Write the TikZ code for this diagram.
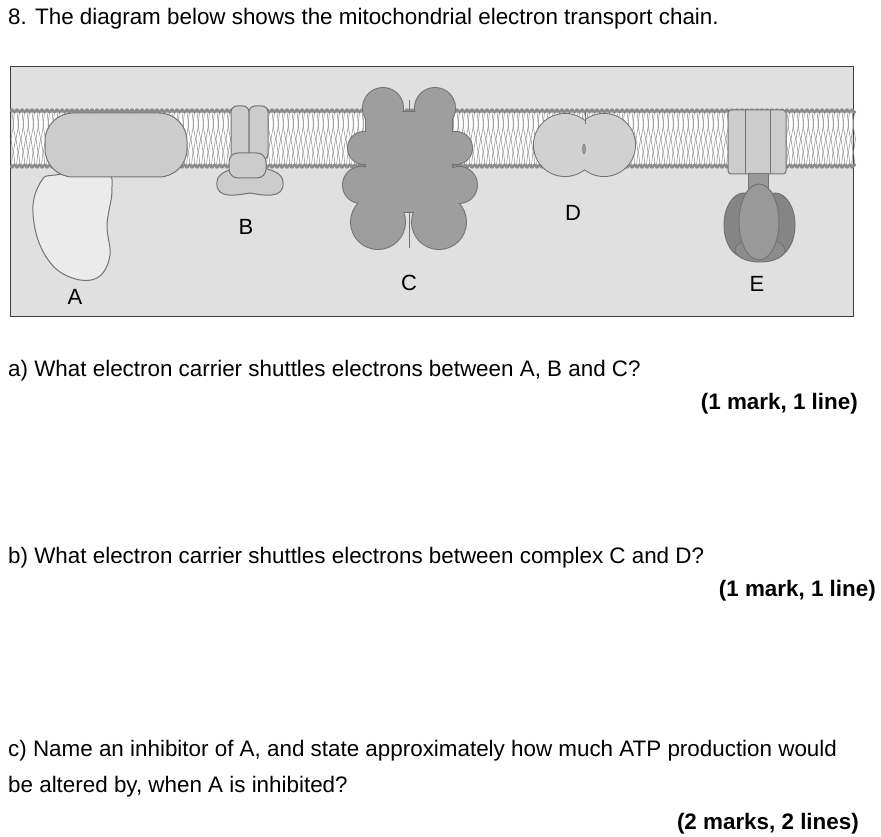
\documentclass[tikz,border=0pt]{standalone}
\usepackage{fontspec}
\setmainfont{Liberation Sans}
\begin{document}
\begin{tikzpicture}[x=1pt,y=-1pt,
  txt/.style={anchor=base west,inner sep=0pt,font=\fontsize{22.4}{26}\selectfont},
  bold/.style={txt,anchor=base east,font=\fontsize{22.4}{26}\selectfont\bfseries},
  lab/.style={inner sep=0pt,font=\fontsize{22}{26}\selectfont},
  pout/.style={draw=black!55,line width=1pt},
  light/.style={fill=black!20},
  dark/.style={fill=black!40},
  darker/.style={fill=black!48},
  cout/.style={draw=black!55,line width=2pt},
  cfill/.style={fill=black!38}]
\useasboundingbox (0,0) rectangle (881,837);
\fill[white] (0,0) rectangle (881,837);
% frame
\node[draw=black!75,line width=1.3pt,fill=black!12,minimum width=843pt,minimum height=250pt,anchor=north west,inner sep=0pt] (frame) at (10,66) {};
% membrane
\fill[white] (12,110) rectangle (852,167);
\foreach \x in {12,17,...,852}{
  \draw[black!45,line width=0.5pt] (\x,112) -- (\x+1.5,125) -- (\x-1,139) -- (\x+1,152) -- (\x-0.5,165);
  \draw[black!45,line width=0.5pt] (\x+2.5,112) -- (\x+1,125) -- (\x+3.5,139) -- (\x+1.5,152) -- (\x+3,165);
  \fill[black!45] (\x,110.5) circle (2.2) (\x+2.5,112) circle (1.8);
  \fill[black!45] (\x,166.5) circle (2.2) (\x+2.5,165) circle (1.8);
}
% A
\draw[pout,fill=black!8] plot[smooth cycle,tension=0.6] coordinates {(55,175) (105,172) (112,190) (107,225) (110,255) (100,276) (80,280) (55,268) (38,240) (33,205) (42,180)};
\draw[pout,light,rounded corners=28pt] (45,113) rectangle (187,177);
% B
\draw[pout,light] (217,182) .. controls (217,162) and (283,162) .. (283,182) .. controls (285,200) and (262,195) .. (250,193) .. controls (238,195) and (215,200) .. (217,182) -- cycle;
\draw[pout,light,rounded corners=6pt] (231,106) rectangle (249,160);
\draw[pout,light,rounded corners=6pt] (249,106) rectangle (268,160);
\draw[pout,light,rounded corners=9pt] (229,153) rectangle (266,178);
% C (union of shapes)
\foreach \st in {cout,cfill}{
  \path[\st] (366,112) rectangle (452,212);
  \foreach \cx/\cy/\r in {383/108/20,435/108/20,364/148/16,456/148/16,361/185/18,459/185/18,378/222/27,439/222/27}{
    \path[\st] (\cx,\cy) circle (\r);
  }
}
\draw[black!55,line width=1pt] (409,100) -- (409,112) (409,212) -- (409,248);
% D
\draw[cout] (565,145) circle (31);
\draw[cout] (604,145) circle (31);
\fill[black!18] (565,145) circle (31);
\fill[black!18] (604,145) circle (31);
\draw[black!55,line width=1pt] (585,112) -- (585,124);
\draw[black!55,fill=black!40] (584,149) ellipse (1.5 and 5);
% E
\draw[pout,light,rounded corners=3pt] (728,110) rectangle (786,174);
\draw[pout] (745,110) -- (745,174) (770,110) -- (770,174);
\draw[pout,dark] (748,174) rectangle (768,194);
\draw[pout,darker] (775,225) ellipse (20 and 32);
\draw[pout,darker] (744,225) ellipse (20 and 32);
\draw[pout,fill=black!45] (760,250) ellipse (25 and 12);
\draw[pout,dark] (759,222) ellipse (20 and 38);
% labels
\node[lab] (lA) at (75,297) {A};
\node[lab] (lB) at (246,227) {B};
\node[lab] (lC) at (409,283) {C};
\node[lab] (lD) at (573,213) {D};
\node[lab] (lE) at (757,284) {E};
% text
\node[txt] (t0) at (8,25) {8. The diagram below shows the mitochondrial electron transport chain.};
\node[txt] (qa) at (8,376) {a) What electron carrier shuttles electrons between A, B and C?};
\node[bold] (ma) at (858,409) {(1 mark, 1 line)};
\node[txt] (qb) at (8,563) {b) What electron carrier shuttles electrons between complex C and D?};
\node[bold] (mb) at (876,596) {(1 mark, 1 line)};
\node[txt] (qc) at (8,756) {c) Name an inhibitor of A, and state approximately how much ATP production would};
\node[txt] (qc2) at (8,792) {be altered by, when A is inhibited?};
\node[bold] (mc) at (859,829) {(2 marks, 2 lines)};
\end{tikzpicture}
\end{document}
